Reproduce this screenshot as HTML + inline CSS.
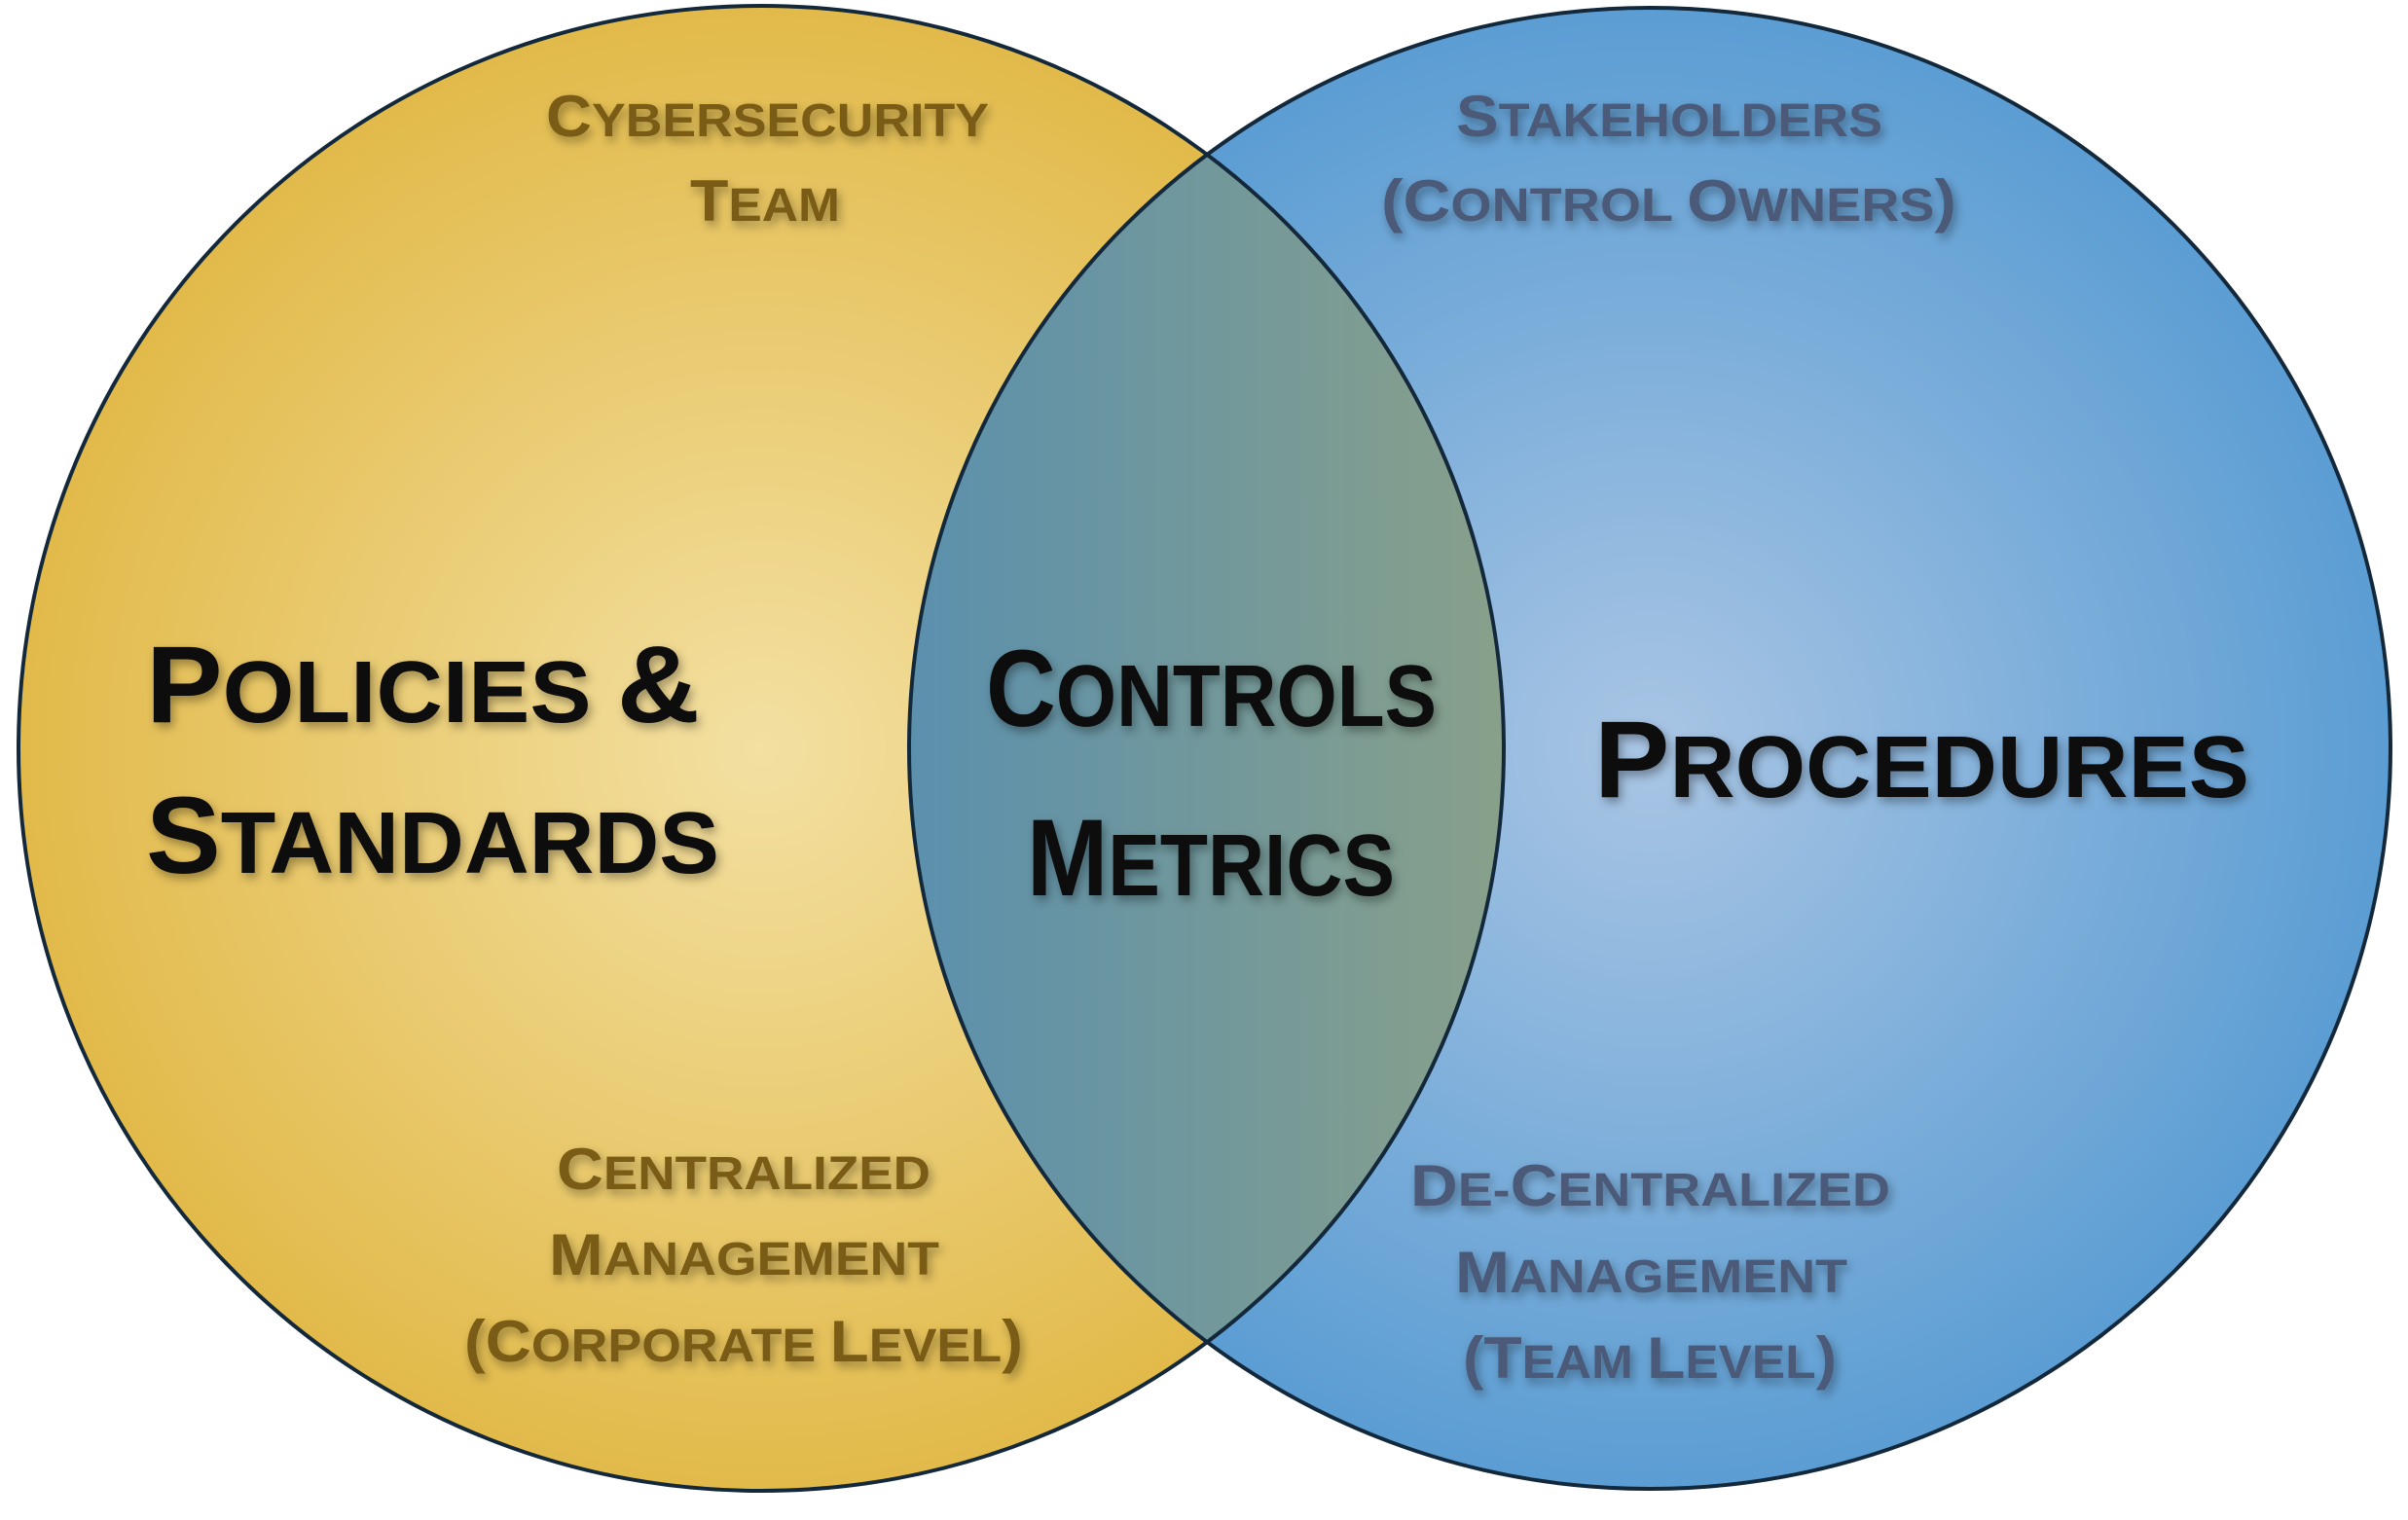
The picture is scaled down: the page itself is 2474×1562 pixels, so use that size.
<!DOCTYPE html>
<html><head><meta charset="utf-8"><style>
html,body{margin:0;padding:0;background:#fff;}
svg{display:block;}
text{font-family:"Liberation Sans",sans-serif;font-weight:bold;}
.lab{fill:#7a5c12;}
.labb{fill:#4b5a78;}
.big{fill:#0a0a0a;}
</style></head><body>
<svg width="2474" height="1562" viewBox="0 0 2474 1562" xmlns="http://www.w3.org/2000/svg">
<defs>
<radialGradient id="gy" cx="782" cy="769" r="763" gradientUnits="userSpaceOnUse">
<stop offset="0" stop-color="#f3e0a2"/><stop offset="1" stop-color="#e2ba4a"/></radialGradient>
<radialGradient id="gb" cx="1695" cy="769" r="761" gradientUnits="userSpaceOnUse">
<stop offset="0" stop-color="#a9c5e4"/><stop offset="1" stop-color="#5b9dd3"/></radialGradient>
<linearGradient id="gm" x1="935" y1="0" x2="1545" y2="0" gradientUnits="userSpaceOnUse">
<stop offset="0" stop-color="#5b90ad"/><stop offset="1" stop-color="#88a08a"/></linearGradient>
<clipPath id="cl"><circle cx="782" cy="769" r="763"/></clipPath>
<filter id="sh" x="-10%" y="-30%" width="120%" height="160%"><feDropShadow dx="3" dy="5" stdDeviation="5" flood-color="#000" flood-opacity="0.35"/></filter>
</defs>
<circle cx="782" cy="769" r="763" fill="url(#gy)"/>
<circle cx="1695" cy="769" r="761" fill="url(#gb)"/>
<circle cx="1695" cy="769" r="761" fill="url(#gm)" clip-path="url(#cl)"/>
<circle cx="782" cy="769" r="763" fill="none" stroke="#13283a" stroke-width="4"/>
<circle cx="1695" cy="769" r="761" fill="none" stroke="#13283a" stroke-width="4"/>
<g filter="url(#sh)">
<text class="lab" x="561" y="140" font-size="60" textLength="455" lengthAdjust="spacingAndGlyphs">C<tspan font-size="48">YBERSECURITY</tspan></text>
<text class="lab" x="709" y="227" font-size="60" textLength="154" lengthAdjust="spacingAndGlyphs">T<tspan font-size="48">EAM</tspan></text>
<text class="labb" x="1496" y="140" font-size="60" textLength="438" lengthAdjust="spacingAndGlyphs">S<tspan font-size="48">TAKEHOLDERS</tspan></text>
<text class="labb" x="1419" y="227" font-size="60" textLength="591" lengthAdjust="spacingAndGlyphs">(C<tspan font-size="48">ONTROL </tspan>O<tspan font-size="48">WNERS</tspan>)</text>
<text class="lab" x="572" y="1222" font-size="60" textLength="384" lengthAdjust="spacingAndGlyphs">C<tspan font-size="48">ENTRALIZED</tspan></text>
<text class="lab" x="564" y="1310" font-size="60" textLength="401" lengthAdjust="spacingAndGlyphs">M<tspan font-size="48">ANAGEMENT</tspan></text>
<text class="lab" x="477" y="1399" font-size="60" textLength="574" lengthAdjust="spacingAndGlyphs">(C<tspan font-size="48">ORPORATE </tspan>L<tspan font-size="48">EVEL</tspan>)</text>
<text class="labb" x="1449" y="1239" font-size="60" textLength="493" lengthAdjust="spacingAndGlyphs">D<tspan font-size="48">E-</tspan>C<tspan font-size="48">ENTRALIZED</tspan></text>
<text class="labb" x="1495" y="1328" font-size="60" textLength="403" lengthAdjust="spacingAndGlyphs">M<tspan font-size="48">ANAGEMENT</tspan></text>
<text class="labb" x="1503" y="1416" font-size="60" textLength="384" lengthAdjust="spacingAndGlyphs">(T<tspan font-size="48">EAM </tspan>L<tspan font-size="48">EVEL</tspan>)</text>
<text class="big" x="150" y="742" font-size="112" textLength="569" lengthAdjust="spacingAndGlyphs">P<tspan font-size="90">OLICIES </tspan>&amp;</text>
<text class="big" x="150" y="897" font-size="112" textLength="589" lengthAdjust="spacingAndGlyphs">S<tspan font-size="90">TANDARDS</tspan></text>
<text class="big" x="1013" y="746" font-size="112" textLength="463" lengthAdjust="spacingAndGlyphs">C<tspan font-size="90">ONTROLS</tspan></text>
<text class="big" x="1055" y="920" font-size="112" textLength="378" lengthAdjust="spacingAndGlyphs">M<tspan font-size="90">ETRICS</tspan></text>
<text class="big" x="1638" y="819" font-size="112" textLength="673" lengthAdjust="spacingAndGlyphs">P<tspan font-size="90">ROCEDURES</tspan></text>
</g>
</svg>
</body></html>
